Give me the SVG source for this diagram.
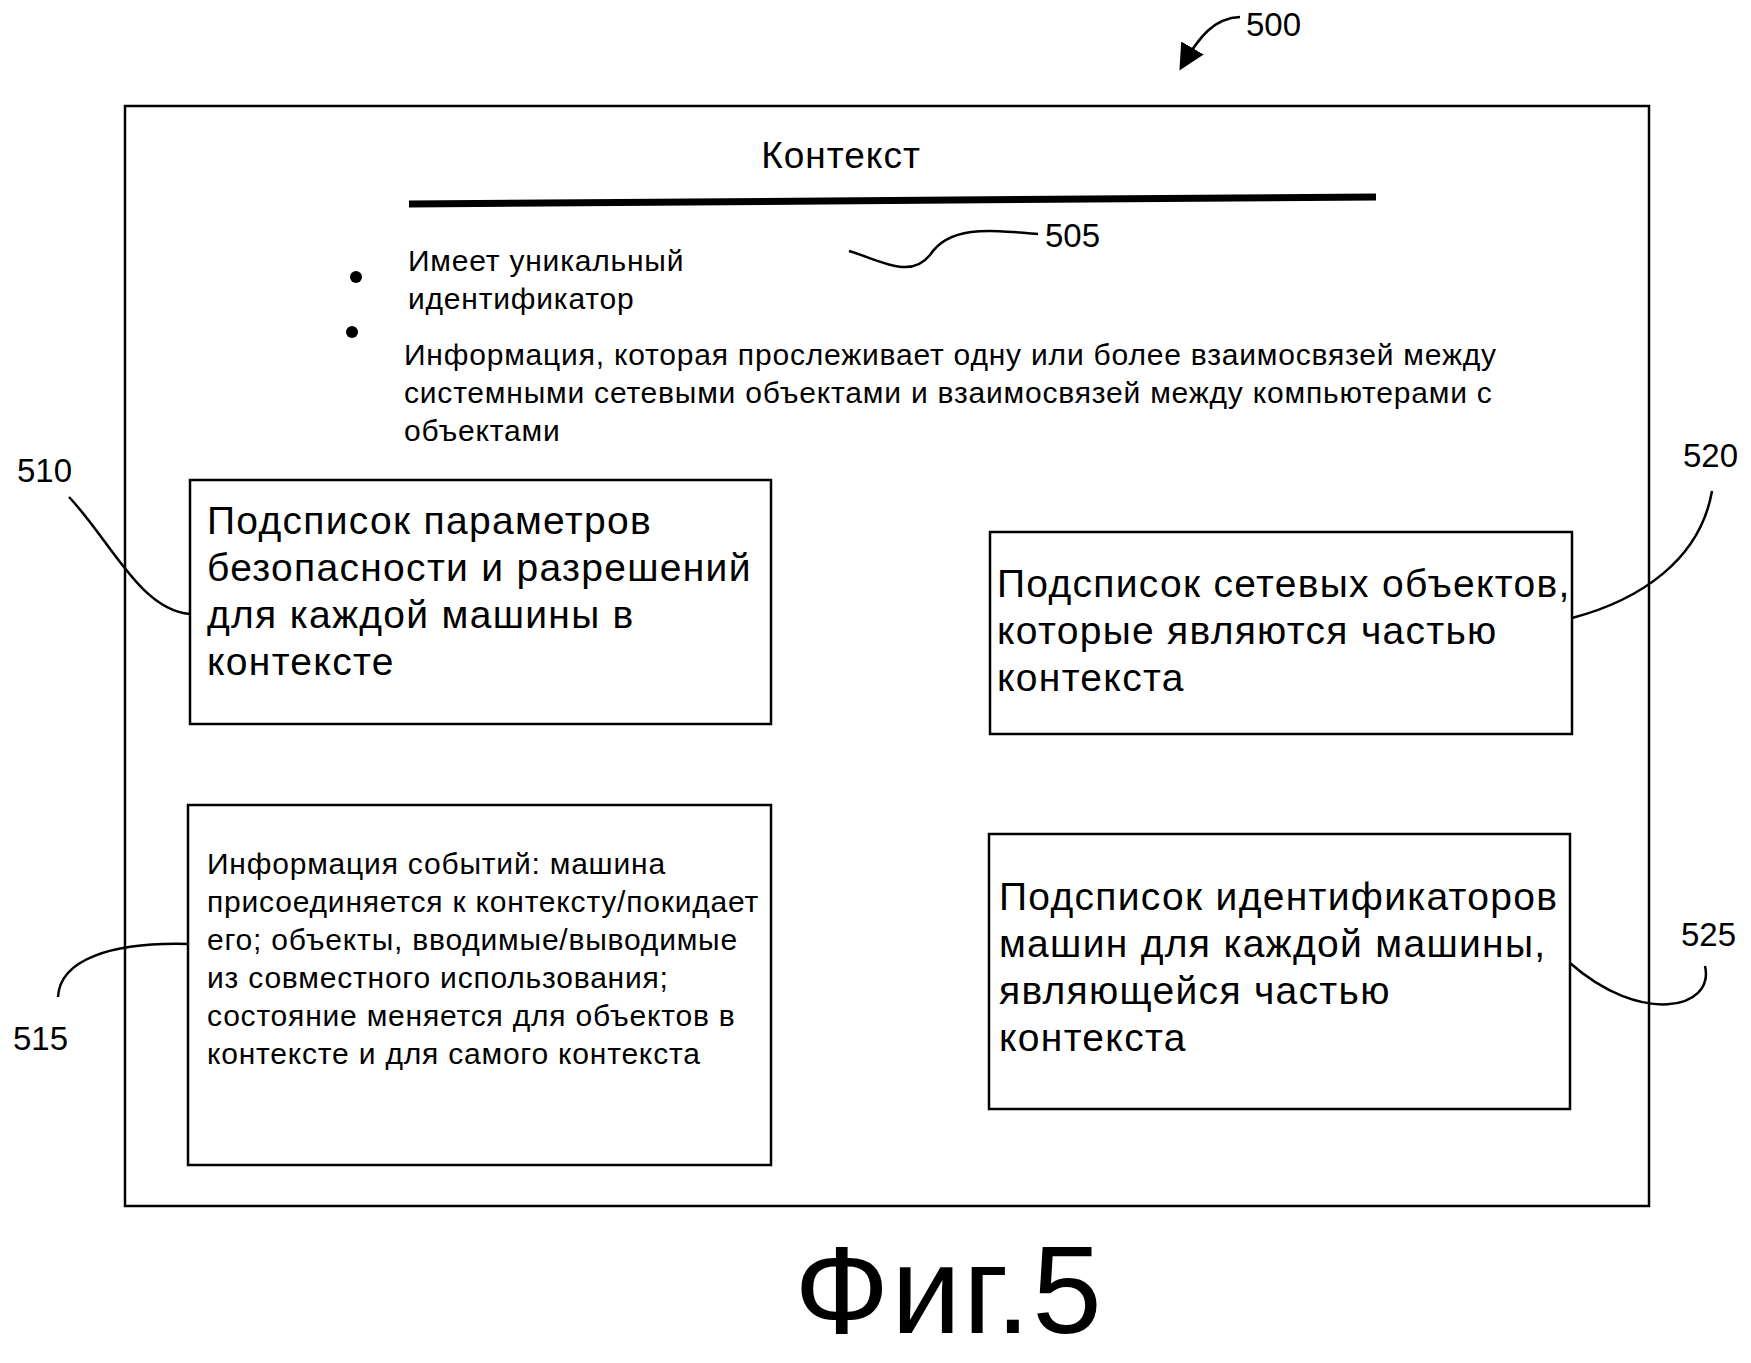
<svg xmlns="http://www.w3.org/2000/svg" width="1751" height="1363" viewBox="0 0 1751 1363">
<style>
text{font-family:"Liberation Sans",Arial,sans-serif;fill:#000}
.box{fill:#fff;stroke:#000;stroke-width:2.5}
.big{font-size:39px;letter-spacing:1.3px}
.sm{font-size:30px;letter-spacing:0.8px}
.lbl{font-size:33px}
.c{fill:none;stroke:#000;stroke-width:2.5}
</style>
<defs>
<marker id="ah2" viewBox="0 0 10 10" markerWidth="26" markerHeight="26" refX="8" refY="5" orient="auto" markerUnits="userSpaceOnUse"><path d="M0,0 L10,5 L0,10 z" fill="#000"/></marker></defs>
<rect class="box" x="125" y="106" width="1524" height="1100"/>
<g id="title"><text x="841" y="168" text-anchor="middle" style="font-size:37px;letter-spacing:1px">Контекст</text>
<line x1="409" y1="204" x2="1376" y2="197" stroke="#000" stroke-width="7"/></g>
<g id="n505">
<circle cx="356" cy="277" r="6"/><circle cx="352" cy="332" r="6"/>
<text class="sm" x="408" y="271">Имеет уникальный</text>
<text class="sm" x="408" y="309">идентификатор</text>
<text class="sm" x="404" y="365">Информация, которая прослеживает одну или более взаимосвязей между</text>
<text class="sm" x="404" y="403">системными сетевыми объектами и взаимосвязей между компьютерами с</text>
<text class="sm" x="404" y="441">объектами</text>
<text class="lbl" x="1045" y="247">505</text></g>
<g id="n510"><rect class="box" x="190" y="480" width="581" height="244"/>
<text class="big" x="207" y="534">Подсписок параметров</text><text class="big" x="207" y="581">безопасности и разрешений</text><text class="big" x="207" y="628">для каждой машины в</text><text class="big" x="207" y="675">контексте</text>
<text class="lbl" x="17" y="482">510</text></g>
<g id="n520"><rect class="box" x="990" y="532" width="582" height="202"/>
<text class="big" x="997" y="597">Подсписок сетевых объектов,</text><text class="big" x="997" y="644">которые являются частью</text><text class="big" x="997" y="691">контекста</text>
<text class="lbl" x="1683" y="467">520</text></g>
<g id="n515"><rect class="box" x="188" y="805" width="583" height="360"/>
<text class="sm" x="207" y="874">Информация событий: машина</text><text class="sm" x="207" y="912">присоединяется к контексту/покидает</text><text class="sm" x="207" y="950">его; объекты, вводимые/выводимые</text><text class="sm" x="207" y="988">из совместного использования;</text><text class="sm" x="207" y="1026">состояние меняется для объектов в</text><text class="sm" x="207" y="1064">контексте и для самого контекста</text>
<text class="lbl" x="13" y="1050">515</text></g>
<g id="n525"><rect class="box" x="989" y="834" width="581" height="275"/>
<text class="big" x="999" y="910">Подсписок идентификаторов</text><text class="big" x="999" y="957">машин для каждой машины,</text><text class="big" x="999" y="1004">являющейся частью</text><text class="big" x="999" y="1051">контекста</text>
<text class="lbl" x="1681" y="946">525</text></g>
<g id="n500"><text class="lbl" x="1246" y="36">500</text></g>
<g id="connectors">
<path class="c" d="M849,251 C880,260 910,280 930,255 C950,225 990,230 1038,234"/>
<path class="c" d="M69,497 C110,540 140,610 190,614"/>
<path class="c" d="M1712,491 C1700,560 1640,600 1572,618"/>
<path class="c" d="M58,997 C60,960 110,942 188,944"/>
<path class="c" d="M1705,966 C1715,1010 1640,1025 1570,963"/>
<path class="c" d="M1240,17 C1215,18 1200,35 1182,66" marker-end="url(#ah2)"/>
</g>
<text x="949" y="1333" text-anchor="middle" style="font-size:125px;letter-spacing:2px">Фиг.5</text>
</svg>
